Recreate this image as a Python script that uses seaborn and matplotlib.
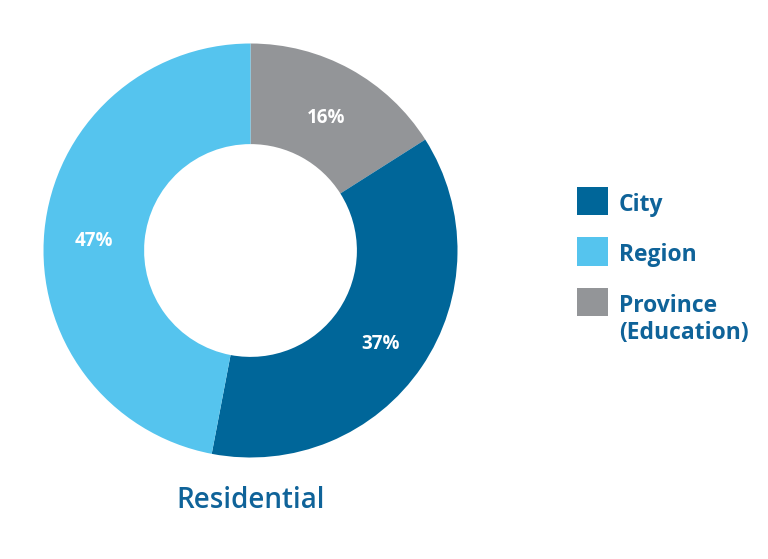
import matplotlib
matplotlib.use("Agg")
import matplotlib.pyplot as plt
import matplotlib.transforms as mtransforms
from matplotlib.patches import Rectangle, Wedge
from matplotlib.legend_handler import HandlerPatch
import seaborn as sns

categories = ["Province\n(Education)", "City", "Region"]
values = [16, 37, 47]
colors = ["#939598", "#006699", "#55C4EE"]
legend_order = ["City", "Region", "Province\n(Education)"]
title = "Residential"
text_color = "#0F6399"

sns.set_theme(style="white")
plt.rcParams["font.family"] = ["Open Sans", "DejaVu Sans"]

W, H = 768, 559
fig = plt.figure(figsize=(W / 100, H / 100), dpi=100)
cx, cy, R = 250.5, 250.5, 207
ax = fig.add_axes([(cx - R) / W, (H - cy - R) / H, 2 * R / W, 2 * R / H])

wedges, texts, autotexts = ax.pie(
    values, colors=colors, startangle=90, counterclock=False,
    autopct="%d%%", pctdistance=0.76, radius=1.0,
    wedgeprops=dict(width=0.486, linewidth=0),
    textprops=dict(color="white", fontsize=13.5, fontweight="bold"),
)
for t in autotexts:
    t.set_transform(mtransforms.offset_copy(t.get_transform(), fig=fig,
                                            x=0, y=-5, units="dots"))
ax.set_xlim(-1, 1)
ax.set_ylim(-1, 1)
ax.set_aspect("equal")


def raised_square(legend, orig_handle, xdescent, ydescent, width, height, fontsize):
    return Rectangle((-xdescent, -ydescent + 4.3), width, height)


handles = [wedges[categories.index(c)] for c in legend_order]
leg = fig.legend(
    handles, legend_order, loc="upper left",
    bbox_to_anchor=(556 / W, 1 - 172 / H), frameon=False,
    handlelength=1.35, handleheight=1.55,
    labelspacing=0.95, handletextpad=0.5,
    prop=dict(weight="bold", size=16.5),
    handler_map={Wedge: HandlerPatch(patch_func=raised_square)},
)
for t in leg.get_texts():
    t.set_color(text_color)
for col in leg._legend_handle_box.get_children():
    for item in col.get_children():
        item.align = "top"

fig.text(cx / W, 1 - 501 / H, title, ha="center", va="center",
         fontsize=20, color=text_color, fontweight="semibold")

fig.savefig("out.png", dpi=100)
